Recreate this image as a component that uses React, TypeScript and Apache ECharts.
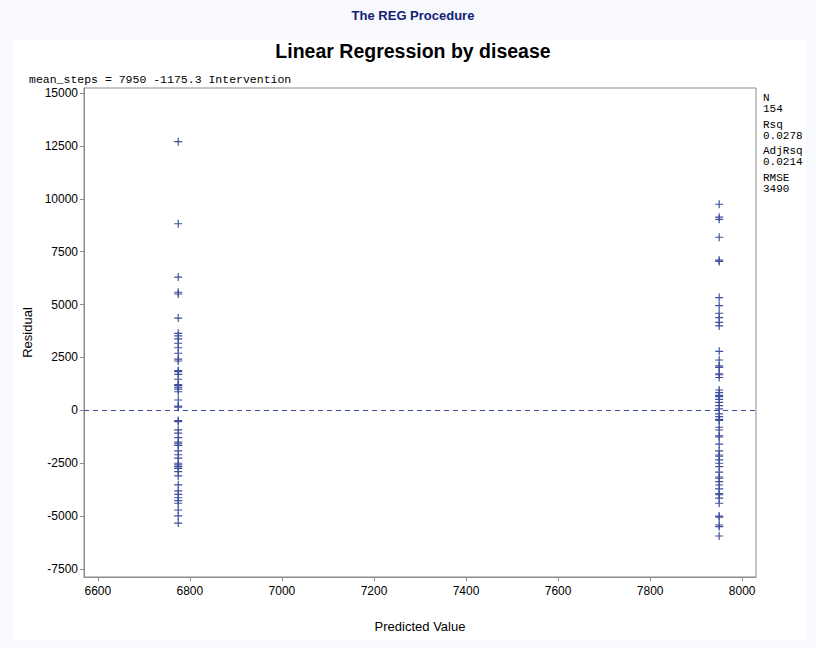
import React, { useEffect, useRef } from "react";
import * as echarts from "echarts";

const predictedValues = [6774.7, 7950];

const residualsIntervention = [
  12700, 8820, 6300, 5580, 5500, 4360, 3640, 3520, 3380, 3170, 2960, 2700, 2420, 2330,
  1880, 1830, 1700, 1470, 1220, 1170, 1090, 1000, 880, 490, 200, 150, -480, -530, -920,
  -1080, -1290, -1500, -1580, -1660, -1920, -2100, -2260, -2500, -2580, -2660, -2740,
  -2900, -3100, -3520, -3810, -3970, -4130, -4270, -4390, -4710, -4990, -5330,
];

const residualsControl = [
  9740, 9130, 9030, 8180, 7100, 7040, 5330, 4950, 4590, 4380, 4160, 3990, 2790, 2380,
  2100, 2030, 1730, 1680, 1550, 960, 840, 710, 650, 520, 380, 220, 70, -170, -300, -430,
  -480, -800, -930, -1210, -1260, -1600, -1920, -2110, -2170, -2340, -2500, -2660, -2920,
  -3150, -3210, -3370, -3530, -3710, -3940, -3990, -4150, -4390, -5000, -5050, -5420,
  -5500, -5940,
];

const xTicks = [6600, 6800, 7000, 7200, 7400, 7600, 7800, 8000];
const yTicks = [-7500, -5000, -2500, 0, 2500, 5000, 7500, 10000, 12500, 15000];

const statLines = ["N", "154", "Rsq", "0.0278", "AdjRsq", "0.0214", "RMSE", "3490"];
const equationText = "mean_steps = 7950 -1175.3 Intervention";

const plusPath =
  "path://M4.7,0h1.6v4.7h4.7v1.6h-4.7v4.7h-1.6v-4.7h-4.7v-1.6h4.7z";

export default function App() {
  const ref = useRef<HTMLDivElement>(null);
  useEffect(() => {
    if (!ref.current) return;
    const chart = echarts.init(ref.current, undefined, { renderer: "svg" });
    const mono = "'Liberation Mono', 'Courier New', monospace";
    const sans = "'Liberation Sans', Arial, sans-serif";
    const statY = [98, 109, 125, 136, 151, 162, 178, 189];
    const data = [
      ...residualsIntervention.map((r) => [predictedValues[0], r]),
      ...residualsControl.map((r) => [predictedValues[1], r]),
    ];
    chart.setOption({
      animation: false,
      backgroundColor: "#F8F9FD",
      graphic: [
        {
          type: "rect",
          shape: { x: 13, y: 40, width: 793, height: 600 },
          style: { fill: "#FFFFFF" },
          z: -10,
          silent: true,
        },
        {
          type: "text",
          x: 413,
          y: 15,
          style: {
            text: "The REG Procedure",
            fill: "#112277",
            font: "bold 13px 'Liberation Sans', Arial, sans-serif",
            textAlign: "center",
            textVerticalAlign: "middle",
          },
        },
        {
          type: "text",
          x: 413,
          y: 51,
          style: {
            text: "Linear Regression by disease",
            fill: "#000000",
            font: "bold 19.5px 'Liberation Sans', Arial, sans-serif",
            textAlign: "center",
            textVerticalAlign: "middle",
          },
        },
        {
          type: "text",
          x: 29,
          y: 79,
          style: {
            text: equationText,
            fill: "#000000",
            font: `11.5px ${mono}`,
            textAlign: "left",
            textVerticalAlign: "middle",
          },
        },
        ...statLines.map((s, i) => ({
          type: "text",
          x: 763,
          y: statY[i],
          style: {
            text: s,
            fill: "#000000",
            font: `11px ${mono}`,
            lineHeight: 10,
            textAlign: "left",
            textVerticalAlign: "middle",
          },
        })),
      ],
      grid: {
        left: 84,
        right: 60,
        top: 88,
        bottom: 71,
        show: true,
        borderColor: "#8C8C8C",
        borderWidth: 1,
        backgroundColor: "transparent",
      },
      xAxis: {
        type: "value",
        min: 6570,
        max: 8030,
        name: "Predicted Value",
        nameLocation: "middle",
        nameGap: 43,
        nameTextStyle: { fontFamily: sans, fontSize: 13, color: "#000" },
        axisLine: { show: true, onZero: false, lineStyle: { color: "#8C8C8C" } },
        axisTick: {
          show: true,
          length: 4,
          customValues: xTicks,
          lineStyle: { color: "#8C8C8C" },
        },
        axisLabel: {
          customValues: xTicks,
          formatter: (v: number) => String(v),
          fontFamily: sans,
          fontSize: 12,
          color: "#000",
          margin: 8,
        },
        splitLine: { show: false },
      },
      yAxis: {
        type: "value",
        min: -7878,
        max: 15236,
        name: "Residual",
        nameLocation: "middle",
        nameGap: 50,
        nameRotate: 90,
        nameTextStyle: { fontFamily: sans, fontSize: 13, color: "#000" },
        axisLine: { show: true, onZero: false, lineStyle: { color: "#8C8C8C" } },
        axisTick: {
          show: true,
          length: 4,
          customValues: yTicks,
          lineStyle: { color: "#8C8C8C" },
        },
        axisLabel: {
          customValues: yTicks,
          formatter: (v: number) => String(v),
          fontFamily: sans,
          fontSize: 12,
          color: "#000",
          margin: 6,
        },
        splitLine: { show: false },
      },
      series: [
        {
          type: "scatter",
          data,
          symbol: plusPath,
          symbolSize: 8,
          itemStyle: { color: "#3D4F9C", opacity: 1 },
          markLine: {
            silent: true,
            symbol: "none",
            label: { show: false },
            lineStyle: { color: "#3D4F9C", type: [5, 4], width: 1, opacity: 1 },
            emphasis: { disabled: true },
            data: [{ yAxis: 0 }],
          },
        },
      ],
    });
    return () => chart.dispose();
  }, []);
  return (
    <div
      ref={ref}
      style={{ position: "fixed", left: 0, top: 0, width: 816, height: 648 }}
    />
  );
}
